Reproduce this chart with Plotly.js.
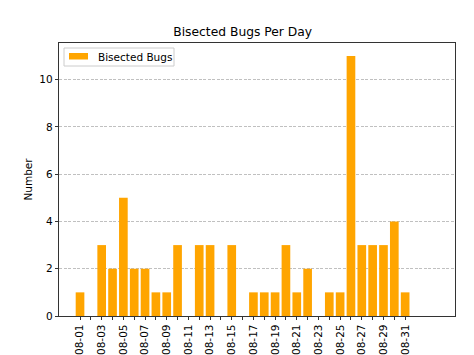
<!DOCTYPE html>
<html>
<head>
<meta charset="utf-8">
<script src="https://cdn.plot.ly/plotly-3.0.1.min.js"></script>
<style>html,body{margin:0;padding:0;background:#fff;}#chart{width:474px;height:355px;}</style>
</head>
<body>
<div id="chart"></div>
<script>
const dates = ["08-01","08-02","08-03","08-04","08-05","08-06","08-07","08-08","08-09","08-10",
  "08-11","08-12","08-13","08-14","08-15","08-16","08-17","08-18","08-19","08-20",
  "08-21","08-22","08-23","08-24","08-25","08-26","08-27","08-28","08-29","08-30","08-31"];
const bugs = [1,0,3,2,5,2,2,1,1,3, 0,3,3,0,3,0,1,1,1,3, 1,2,0,1,1,11,3,3,3,4,1];
const tickLabels = dates.map((d,i)=> i%2===0 ? d : "");
const yTicks = [0,2,4,6,8,10];
const seriesName = "Bisected Bugs";
const barColor = "#FFA500";

const trace = {
  type: "bar",
  x: dates,
  y: bugs,
  name: seriesName,
  width: 0.8,
  marker: {color: barColor},
  showlegend: false
};

// plot area in px: x 59..455, y 43..316
const pw = 396, ph = 273;
const px = v => (v - 59) / pw;
const py = v => 1 - (v - 43) / ph;

const layout = {
  width: 474, height: 355,
  margin: {l: 59, r: 19, t: 43, b: 39},
  paper_bgcolor: "#fff", plot_bgcolor: "#fff",
  font: {family: "DejaVu Sans", size: 10.5, color: "#000"},
  title: {text: "Bisected Bugs Per Day", font: {size: 12.3, family: "DejaVu Sans"}, x: 0.512, xanchor: "center", y: 0.91, yanchor: "middle"},
  showlegend: false,
  shapes: [
    {type: "rect", xref: "paper", yref: "paper", x0: px(64), x1: px(174), y0: py(66), y1: py(48),
     line: {color: "#cccccc", width: 1}, fillcolor: "rgba(255,255,255,0.8)", layer: "above"},
    {type: "rect", xref: "paper", yref: "paper", x0: px(69), x1: px(88), y0: py(59.5), y1: py(53),
     line: {width: 0}, fillcolor: barColor, layer: "above"}
  ],
  annotations: [
    {xref: "paper", yref: "paper", x: px(96), y: py(57), xanchor: "left", yanchor: "middle",
     text: seriesName, showarrow: false, font: {size: 10.5, family: "DejaVu Sans", color: "#000"}}
  ],
  xaxis: {
    type: "category",
    range: [-1.94, 34.6],
    tickmode: "array", tickvals: dates, ticktext: tickLabels,
    tickangle: -90,
    ticks: "outside", ticklen: 3.5, tickwidth: 0.8, tickcolor: "#000",
    showline: true, linecolor: "#000", linewidth: 0.8, mirror: true,
    showgrid: false, zeroline: false, automargin: false,
    tickfont: {size: 10.5}
  },
  yaxis: {
    range: [0, 11.55],
    tickmode: "array", tickvals: yTicks,
    ticks: "outside", ticklen: 3.5, tickwidth: 0.8, tickcolor: "#000",
    showline: true, linecolor: "#000", linewidth: 0.8, mirror: true,
    showgrid: true, gridcolor: "#b0b0b0", griddash: "3px,1.5px", gridwidth: 0.8,
    zeroline: false, automargin: false,
    title: {text: "Number", font: {size: 10.5}, standoff: 4},
    tickfont: {size: 10.5}
  }
};

Plotly.newPlot("chart", [trace], layout, {displayModeBar: false, staticPlot: true});
</script>
</body>
</html>
